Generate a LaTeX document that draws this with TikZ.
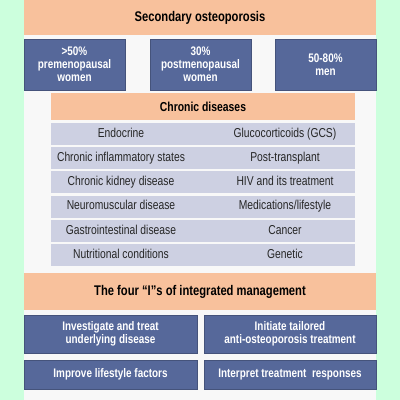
\documentclass[tikz,border=0pt]{standalone}
\usepackage{fontspec}
\setmainfont{Liberation Sans}[FakeStretch=0.8]
\usetikzlibrary{positioning}
\definecolor{bggreen}{HTML}{CCFFDD}
\definecolor{panelgray}{HTML}{F8F8F8}
\definecolor{headorange}{HTML}{F8C19C}
\definecolor{boxblue}{HTML}{56689A}
\definecolor{rowlilac}{HTML}{CDD0E2}

\begin{document}
\begin{tikzpicture}[x=1pt, y=-1pt,
    every node/.style={inner sep=0pt, outer sep=0pt, align=center},
    header/.style={fill=headorange, text=black, font=\bfseries\fontsize{14}{15}\selectfont},
    bluebox/.style={fill=boxblue, draw=boxblue!80!black, line width=0.5pt, text=white, font=\bfseries\fontsize{12.4}{12.8}\selectfont},
    rowcell/.style={fill=rowlilac, minimum width=304pt, minimum height=22pt},
    celltext/.style={text=black!85, text height=9.3pt, text depth=2.7pt, font=\fontsize{12.9}{14}\selectfont}]
    % Background
    \fill[bggreen] (0,0) rectangle (400,400);
    \useasboundingbox (0,0) rectangle (400,400);
    \fill[panelgray] (24,0) rectangle (376,400);

    % Top header and population boxes
    \node[header, anchor=north west, minimum width=352pt, minimum height=35pt] (title) at (24,0) {Secondary osteoporosis};
    \node[bluebox, anchor=north west, minimum width=101pt, minimum height=51pt] (premeno) at (24,39) {>50\%\\premenopausal\\women};
    \node[bluebox, right=25pt of premeno, minimum width=101pt, minimum height=51pt] (postmeno) {30\%\\postmenopausal\\women};
    \node[bluebox, right=24pt of postmeno, minimum width=101pt, minimum height=51pt] (men) {50-80\%\\men};

    % Chronic diseases table
    \node[header, anchor=north west, minimum width=304pt, minimum height=27pt, font=\bfseries\fontsize{13}{14}\selectfont] (chronic) at (51,93) {Chronic diseases};
    \foreach \l/\r [count=\i from 0] in {Endocrine/{Glucocorticoids (GCS)},
        {Chronic inflammatory states}/Post-transplant,
        {Chronic kidney disease}/{HIV and its treatment},
        {Neuromuscular disease}/{Medications/lifestyle},
        {Gastrointestinal disease}/Cancer,
        {Nutritional conditions}/Genetic} {
        \node[rowcell, anchor=north west] (row\i) at (51,{123+24.2*\i}) {};
        \node[celltext] (left\i) at ([xshift=70pt]row\i.west) {\l};
        \node[celltext] (right\i) at ([xshift=-70pt]row\i.east) {\r};
    }

    % Management
    \node[header, anchor=north west, minimum width=352pt, minimum height=37pt] (four) at (24,273) {The four “I”s of integrated management};
    \node[bluebox, anchor=north west, minimum width=173pt, minimum height=38pt] (investigate) at (24,315) {Investigate and treat\\underlying disease};
    \node[bluebox, right=7pt of investigate, minimum width=172pt, minimum height=38pt] (initiate) {Initiate tailored\\anti-osteoporosis treatment};
    \node[bluebox, below=7pt of investigate, minimum width=173pt, minimum height=29pt] (improve) {Improve lifestyle factors};
    \node[bluebox, right=7pt of improve, minimum width=172pt, minimum height=29pt] (interpret) {Interpret treatment\ \ responses};
\end{tikzpicture}
\end{document}
